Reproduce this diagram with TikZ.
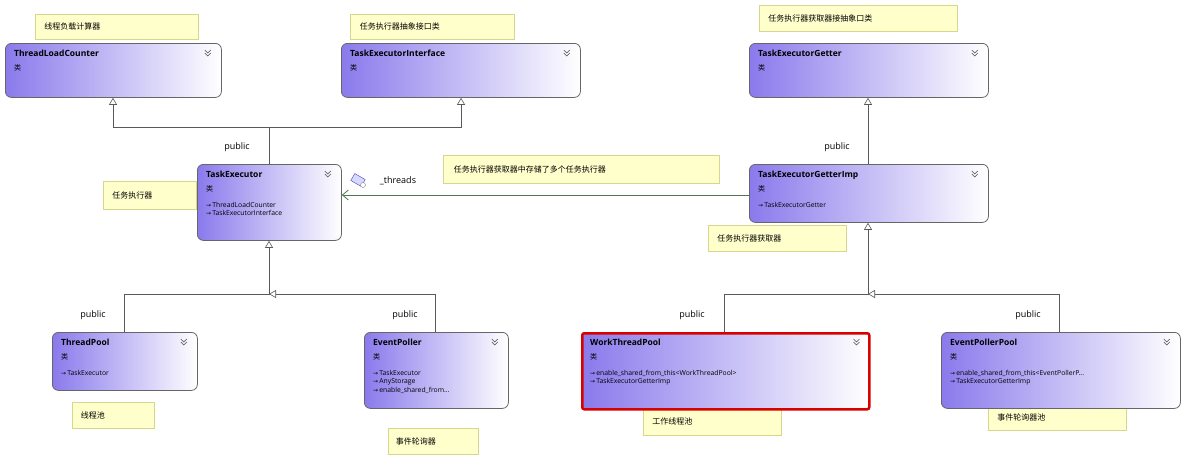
\documentclass[tikz,border=0pt]{standalone}
\usepackage{fontspec}
\setmainfont{Open Sans}
\newfontfamily\cjk{Noto Sans CJK SC}
\newfontfamily\dv{DejaVu Sans}
\usetikzlibrary{arrows.meta,calc}
\definecolor{clsl}{RGB}{138,122,236}
\definecolor{notef}{RGB}{255,255,204}
\definecolor{noted}{RGB}{214,214,140}
\definecolor{assoc}{RGB}{80,120,80}
\tikzset{
  clsbox/.style={draw=gray!80!black, rounded corners=6pt, left color=clsl, right color=white, shading angle=90, inner sep=0pt, line width=0.8pt},
  notebox/.style={draw=noted, fill=notef, inner sep=0pt, font=\cjk\fontsize{8}{9}\selectfont, align=left},
  inh/.style={draw=gray!70!black, line width=0.6pt, -{Triangle[open,length=7pt,width=8pt,fill=white]}},
  lbl/.style={font=\fontsize{9}{10}\selectfont, inner sep=1pt},
}
\newcommand{\cls}[7]{%
  \node[clsbox, #7, minimum width=#4pt-#2pt, minimum height=#5pt-#3pt, anchor=north west] (#1) at (#2,#3) {};
  \node[anchor=north west, inner sep=0pt, font=\bfseries\fontsize{8.5}{10}\selectfont] at ($(#1.north west)+(9,7)$) {#6};
  \node[anchor=north west, inner sep=0pt, font=\cjk\fontsize{7}{8}\selectfont] at ($(#1.north west)+(9,21)$) {类};
  \draw[gray!60!black, line width=0.6pt] ($(#1.north east)+(-17,7)$) -- ++(3,3) -- ++(3,-3) ($(#1.north east)+(-17,10)$) -- ++(3,3) -- ++(3,-3);
}
\newcommand{\mem}[3]{\node[anchor=north west, inner sep=0pt, font=\fontsize{6.8}{8.5}\selectfont, align=left] at ($(#1.north west)+(9,#2)$) {#3};}
\newcommand{\ar}{{\dv\fontsize{6}{7}\selectfont →}\,}
\begin{document}
\begin{tikzpicture}[x=1pt,y=-1pt]
\useasboundingbox[fill=white] (0,0) rectangle (1187,475);
% notes
\node[notebox, minimum width=163pt, minimum height=25pt, anchor=north west, text width=150pt] (n1) at (35,14) {\ 线程负载计算器};
\node[notebox, minimum width=164pt, minimum height=25pt, anchor=north west, text width=150pt] (n2) at (350,14) {\ 任务执行器抽象接口类};
\node[notebox, minimum width=198pt, minimum height=26pt, anchor=north west, text width=185pt] (n3) at (759,5) {\ 任务执行器获取器接抽象口类};
\node[notebox, minimum width=93pt, minimum height=28pt, anchor=north west, text width=80pt] (n4) at (103,181) {\ 任务执行器};
\node[notebox, minimum width=276pt, minimum height=28pt, anchor=north west, text width=260pt] (n5) at (443,155) {\ 任务执行器获取器中存储了多个任务执行器};
\node[notebox, minimum width=138pt, minimum height=26pt, anchor=north west, text width=125pt] (n6) at (708,225) {\ 任务执行器获取器};
\node[notebox, minimum width=82pt, minimum height=26pt, anchor=north west, text width=70pt] (n7) at (72,402) {\ 线程池};
\node[notebox, minimum width=90pt, minimum height=26pt, anchor=north west, text width=80pt] (n8) at (388,428) {\ 事件轮询器};
\node[notebox, minimum width=138pt, minimum height=27pt, anchor=north west, text width=125pt] (n9) at (643,408) {\ 工作线程池};
\node[notebox, minimum width=138pt, minimum height=26pt, anchor=north west, text width=125pt] (n10) at (988,404) {\ 事件轮询器池};
% classes
\cls{tlc}{5}{43}{221}{97}{ThreadLoadCounter}{}
\cls{tei}{341}{43}{580}{97}{TaskExecutorInterface}{}
\cls{teg}{749}{43}{988}{97}{TaskExecutorGetter}{}
\cls{te}{197}{164}{341}{240}{TaskExecutor}{}
\mem{te}{38}{\ar ThreadLoadCounter\\\ar TaskExecutorInterface}
\cls{tegi}{749}{164}{988}{222}{TaskExecutorGetterImp}{}
\mem{tegi}{38}{\ar TaskExecutorGetter}
\cls{tp}{52}{332}{197}{390}{ThreadPool}{}
\mem{tp}{38}{\ar TaskExecutor}
\cls{ep}{364}{332}{508}{408}{EventPoller}{}
\mem{ep}{38}{\ar TaskExecutor\\\ar AnyStorage\\\ar enable\_shared\_from...}
\cls{wtp}{581}{332}{868}{408}{WorkThreadPool}{draw=red!85!black, line width=2.5pt, rounded corners=2pt}
\mem{wtp}{38}{\ar enable\_shared\_from\_this<WorkThreadPool>\\\ar TaskExecutorGetterImp}
\cls{epp}{941}{332}{1180}{408}{EventPollerPool}{}
\mem{epp}{38}{\ar enable\_shared\_from\_this<EventPollerP...\\\ar TaskExecutorGetterImp}
% inheritance
\draw[inh] (te.north) |- (113,127) -- (tlc.south -| 113,0);
\draw[inh] (te.north) |- (461,127) -- (tei.south -| 461,0);
\draw[inh] (tegi.north -| 868,0) -- (teg.south -| 868,0);
\draw[inh] (tp.north -| 124,0) |- (269,294) -- (te.south -| 269,0);
\draw[inh] (ep.north -| 435,0) |- (269,294);
\draw[inh] (wtp.north -| 724,0) |- (868,294) -- (tegi.south -| 868,0);
\draw[inh] (epp.north -| 1059,0) |- (868,294);
\node[lbl] at (237,147) {public};
\node[lbl] at (837,147) {public};
\node[lbl] at (93,315) {public};
\node[lbl] at (405,315) {public};
\node[lbl] at (692,315) {public};
\node[lbl] at (1028,315) {public};
% association
\draw[assoc, line width=0.8pt, -{Straight Barb[length=6pt,width=10pt]}] (tegi.west |- 0,195) -- (te.east |- 0,195);
\node[lbl] at (398,181) {\_threads};
\draw[blue!50!gray, fill=blue!15, rotate around={-30:(358,180)}] (352,176) rectangle (364,184);
\draw[gray, fill=white] (363,185) circle (2.5pt);
\end{tikzpicture}
\end{document}
